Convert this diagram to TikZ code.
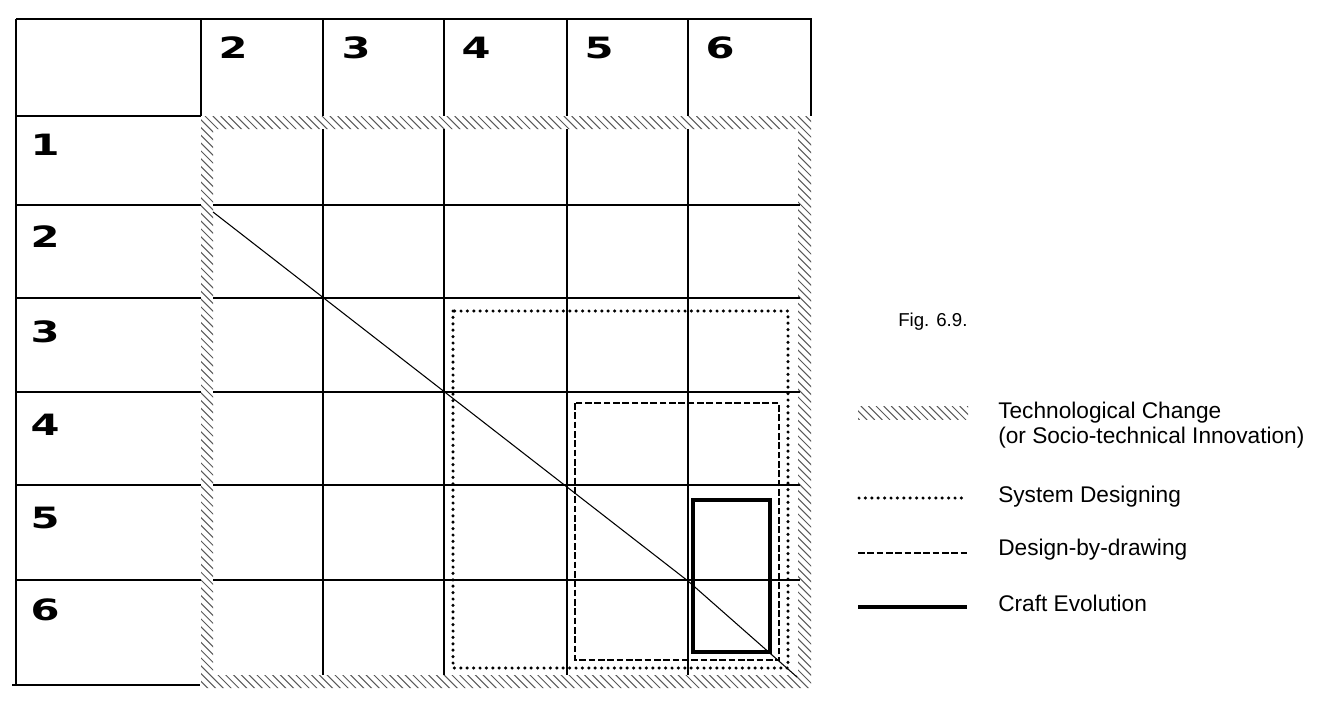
\documentclass[tikz,border=0pt]{standalone}
\usepackage{fontspec}
\usepackage{graphicx}
\setmainfont{Liberation Sans}
\newfontfamily\digitfont{DejaVu Sans}
\tikzset{
  gridline/.style={line width=0.8pt},
  frameline/.style={line width=1.4pt},
  hatchline/.style={line width=0.75pt, black!65},
  sysdes/.style={line width=2.6pt, dash pattern=on 0pt off 4.8pt, line cap=round},
  desdraw/.style={line width=1.6pt, dash pattern=on 5pt off 2pt},
  craft/.style={line width=2.4pt},
  digit/.style={font=\digitfont\bfseries\fontsize{22}{22}\selectfont, anchor=center, inner sep=0pt},
  legtext/.style={anchor=west, inner sep=0pt, font=\fontsize{17}{20}\selectfont},
}
\newcommand{\widedigit}[1]{\scalebox{1.42}[1]{#1}}
\begin{document}
\begin{tikzpicture}[x=0.75pt,y=-0.75pt]
\useasboundingbox (0,0) rectangle (1330,708);
% hatched band
\begin{scope}[even odd rule]
  \clip (201,116) rectangle (811,688) (213,129) rectangle (798,675);
  \foreach \a in {-380,-372.2,...,815} \draw[hatchline] (\a,116) -- ++(580,580);
\end{scope}
% header row and left column frame
\draw[frameline] (16,19) -- (811,19) -- (811,116);
\draw[frameline] (201,19) -- (201,116);
\draw[frameline] (16,19) -- (16,685);
\draw[frameline] (16,116) -- (201,116);
\draw[line width=1.8pt] (12,685) -- (200,685);
% column lines
\foreach \x in {323,444,567,688} {
  \draw[gridline] (\x,19) -- (\x,116);
  \draw[gridline] (\x,129) -- (\x,675);
}
% row lines
\foreach \y in {205,298,392,485,580} {
  \draw[gridline] (16,\y) -- (201,\y);
  \draw[gridline] (213,\y) -- (800,\y);
}
% diagonal
\draw[gridline] (213,212) -- (688,581) -- (797,677);
% regions
\draw[sysdes] (453,311) rectangle (788,668);
\draw[desdraw] (575,403) rectangle (779,660);
\draw[craft] (693,500) rectangle (770,652);
% column labels
\node[digit] (c2) at (233,48) {\widedigit{2}};
\node[digit] (c3) at (356,48) {\widedigit{3}};
\node[digit] (c4) at (476,48) {\widedigit{4}};
\node[digit] (c5) at (599,48) {\widedigit{5}};
\node[digit] (c6) at (720,48) {\widedigit{6}};
% row labels
\node[digit] (r1) at (45,145) {\widedigit{1}};
\node[digit] (r2) at (45,237) {\widedigit{2}};
\node[digit] (r3) at (45,332) {\widedigit{3}};
\node[digit] (r4) at (45,425) {\widedigit{4}};
\node[digit] (r5) at (45,518) {\widedigit{5}};
\node[digit] (r6) at (45,610) {\widedigit{6}};
% legend
\node[anchor=west, inner sep=0pt, font=\fontsize{14}{16}\selectfont] (fig) at (898,322) {Fig. 6.9.};
\begin{scope}
  \clip (858,406) rectangle (968,419);
  \foreach \a in {838,845.6,...,970} \draw[hatchline] (\a,406) -- ++(14,14);
\end{scope}
\node[legtext] (l1) at (998,413) {Technological Change};
\node[legtext] (l1b) at (998,438) {(or Socio-technical Innovation)};
\draw[sysdes] (859,498) -- (965,498);
\node[legtext] (l2) at (998,497) {System Designing};
\draw[desdraw] (858,553) -- (967,553);
\node[legtext] (l3) at (998,550) {Design-by-drawing};
\draw[craft] (858,607) -- (967,607);
\node[legtext] (l4) at (998,603) {Craft Evolution};
\end{tikzpicture}
\end{document}
